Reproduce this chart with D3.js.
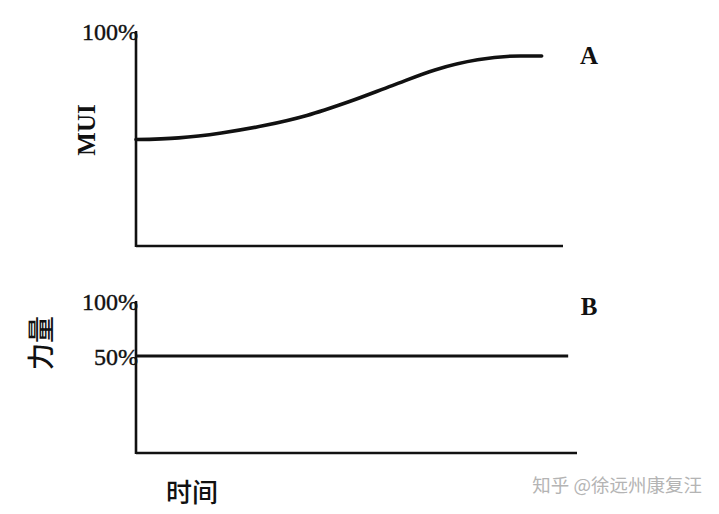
<!DOCTYPE html>
<html><head><meta charset="utf-8">
<script src="https://cdn.jsdelivr.net/npm/d3@7"></script>
<style>body{margin:0;background:#fff}svg{display:block}</style>
</head><body>
<svg id="c" width="719" height="514"></svg>
<script>
// Panel A: MUI over time (percent)
const timeA = [0, 10, 20, 30, 40, 50, 60, 70, 80, 90, 95];
const muiA  = [49.5, 50.3, 52.6, 56.0, 60.7, 67.2, 74.6, 81.9, 86.6, 88.4, 88.4];
// Panel B: force over time (percent)
const timeB  = [0, 98];
const forceB = [50, 50];
const ticksA = [100];
const ticksB = [100, 50];
const tickLabels = {100: "100%", 50: "50%"};

const svg = d3.select("#c");
const serif = "'Liberation Serif','DejaVu Serif',serif";
const cjk = "'Noto Sans CJK SC','Noto Sans CJK JP',sans-serif";

// scales
const xA = d3.scaleLinear().domain([0, 100]).range([136, 563]);
const yA = d3.scaleLinear().domain([0, 100]).range([246, 31]);
const xB = d3.scaleLinear().domain([0, 100]).range([136, 577]);
const yB = d3.scaleLinear().domain([0, 50, 100]).range([453, 356, 301]);

function axes(g, x, y) {
  const [x0, x1] = x.range();
  g.append("line").attr("x1", x(0)).attr("x2", x1).attr("y1", y(0)).attr("y2", y(0))
    .attr("stroke", "#111").attr("stroke-width", 2.6);
  g.append("line").attr("x1", x(0)).attr("x2", x(0)).attr("y1", y(0) + 1).attr("y2", y(100))
    .attr("stroke", "#111").attr("stroke-width", 2.6);
}

const gA = svg.append("g");
axes(gA, xA, yA);
gA.append("g").attr("transform", `translate(${xA(0)},0)`)
  .call(d3.axisLeft(yA).tickValues(ticksA).tickSize(0).tickPadding(0).tickFormat(d => tickLabels[d]))
  .call(g => g.select(".domain").remove())
  .selectAll("text").attr("font-family", serif).attr("font-size", 24).attr("fill", "#111")
  .attr("stroke", "#111").attr("stroke-width", 0.4)
  .attr("dx", 2).attr("dy", "0.34em");

gA.append("path")
  .datum(timeA.map((t, i) => [t, muiA[i]]))
  .attr("fill", "none").attr("stroke", "#111").attr("stroke-width", 3.6)
  .attr("stroke-linecap", "round")
  .attr("d", d3.line().x(d => xA(d[0])).y(d => yA(d[1])).curve(d3.curveMonotoneX));

gA.append("text").attr("x", 86).attr("y", 130).attr("transform", "rotate(-90,86,130)")
  .attr("text-anchor", "middle").attr("dominant-baseline", "central")
  .attr("font-family", serif).attr("font-weight", "bold").attr("font-size", 25).attr("fill", "#111")
  .text("MUI");
gA.append("text").attr("x", 589).attr("y", 55).attr("text-anchor", "middle").attr("dominant-baseline", "central")
  .attr("font-family", serif).attr("font-weight", "bold").attr("font-size", 25).attr("fill", "#111")
  .text("A");

const gB = svg.append("g");
axes(gB, xB, yB);
gB.append("g").attr("transform", `translate(${xB(0)},0)`)
  .call(d3.axisLeft(yB).tickValues(ticksB).tickSize(0).tickPadding(0).tickFormat(d => tickLabels[d]))
  .call(g => g.select(".domain").remove())
  .selectAll("text").attr("font-family", serif).attr("font-size", 24).attr("fill", "#111")
  .attr("stroke", "#111").attr("stroke-width", 0.4)
  .attr("dx", 2).attr("dy", "0.34em");

gB.append("path")
  .datum(timeB.map((t, i) => [t, forceB[i]]))
  .attr("fill", "none").attr("stroke", "#111").attr("stroke-width", 3)
  .attr("d", d3.line().x(d => xB(d[0])).y(d => yB(d[1])));

gB.append("text").attr("x", 39).attr("y", 343).attr("transform", "rotate(-90,39,343)")
  .attr("text-anchor", "middle").attr("dominant-baseline", "central")
  .attr("font-family", cjk).attr("font-weight", 500).attr("font-size", 27).attr("fill", "#111")
  .text("力量");
gB.append("text").attr("x", 589).attr("y", 306).attr("text-anchor", "middle").attr("dominant-baseline", "central")
  .attr("font-family", serif).attr("font-weight", "bold").attr("font-size", 25).attr("fill", "#111")
  .text("B");

svg.append("text").attr("x", 192).attr("y", 490).attr("text-anchor", "middle").attr("dominant-baseline", "central")
  .attr("font-family", cjk).attr("font-weight", 500).attr("font-size", 26).attr("fill", "#111")
  .text("时间");

svg.append("text").attr("x", 702).attr("y", 484).attr("text-anchor", "end").attr("dominant-baseline", "central")
  .attr("font-family", cjk).attr("font-size", 18.5).attr("fill", "#b4b4b4")
  .text("知乎 @徐远州康复汪");
</script>
</body></html>
